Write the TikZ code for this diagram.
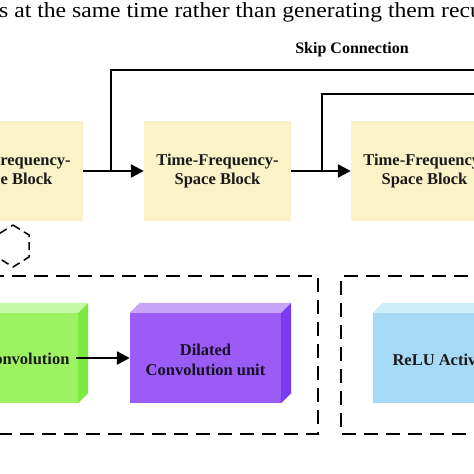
\documentclass[tikz,border=0pt]{standalone}
\usepackage{fontspec}
\setmainfont{Liberation Serif}
\usetikzlibrary{arrows.meta}
\definecolor{tfsyel}{HTML}{FBF2C8}
\definecolor{gfront}{HTML}{9CF260}
\definecolor{gside}{HTML}{7DE83F}
\definecolor{gtop}{HTML}{C6F8A6}
\definecolor{pfront}{HTML}{9B5CF6}
\definecolor{pside}{HTML}{7B3BF4}
\definecolor{ptop}{HTML}{C8A4F9}
\definecolor{bfront}{HTML}{A7DAF7}
\definecolor{btop}{HTML}{CFEEFB}
\definecolor{txtdark}{HTML}{1A1A1A}
\tikzset{
  tfsblock/.style={fill=tfsyel, draw=none, minimum width=147pt, minimum height=100pt,
    align=center, text=txtdark, font=\bfseries\fontsize{16.5}{19}\selectfont},
  cubefront/.style={draw=none, minimum width=151pt, minimum height=90pt, inner sep=0pt},
  conn/.style={line width=2.4pt, draw=black},
  arr/.style={line width=2.4pt, -{Triangle[length=13pt,width=13pt]}},
  dbox/.style={line width=2pt, dash pattern=on 14pt off 8pt},
  lbl/.style={font=\bfseries\fontsize{16.5}{19.5}\selectfont, text=txtdark, align=center},
}
\begin{document}
\begin{tikzpicture}[x=1pt,y=-1pt]
\useasboundingbox (0,0) rectangle (474,474);
\clip (0,0) rectangle (474,474);
\fill[white] (0,0) rectangle (474,474);

% top caption fragment
\node[anchor=base west, inner sep=0pt, font=\fontsize{21.5}{24}\selectfont] (cap) at (-1,17) {\scalebox{1.1}[1]{s at the same time rather than generating them recursively}};

% skip label
\node[font=\bfseries\fontsize{16}{18}\selectfont] (skip) at (352,50) {Skip Connection};

% blocks
\node[tfsblock] (b1) at (9.5,171) {Time-Frequency-\\Space Block};
\node[tfsblock] (b2) at (217.5,171) {Time-Frequency-\\Space Block};
\node[tfsblock] (b3) at (424.5,171) {Time-Frequency-\\Space Block};

\draw[arr] (b1.east) -- (b2.west);
\draw[arr] (b2.east) -- (b3.west);

\coordinate (j1) at (111,171);
\coordinate (j2) at (322,171);
\coordinate (s1end) at (480,70);
\coordinate (s2end) at (480,94);
\draw[conn, line cap=rect] (j1) |- (s1end);
\draw[conn, line cap=rect] (j2) |- (s2end);

% dashed hexagon
\draw[line width=1.5pt, dash pattern=on 8pt off 5pt] (13,225) -- (29,235) -- (29,257) -- (13,267) -- (-3,257) -- (-3,235) -- cycle;

% dashed group boxes
\draw[dbox] (-10,276) -- (318,276) -- (318,434) -- (-10,434);
\draw[dbox] (490,276) -- (341,276) -- (341,434) -- (490,434);

% green cube
\node[cubefront, fill=gfront] (g) at (2.5,358) {};
\fill[gtop] (g.north west) -- ++(10,-10) -- ([shift={(10,-10)}]g.north east) -- (g.north east) -- cycle;
\fill[gside] (g.north east) -- ++(10,-10) -- ([shift={(10,-10)}]g.south east) -- (g.south east) -- cycle;
\node[lbl, anchor=east] (gt) at (73,359) {Convolution};

% purple cube
\node[cubefront, fill=pfront] (p) at (205.5,358) {};
\fill[ptop] (p.north west) -- ++(10,-10) -- ([shift={(10,-10)}]p.north east) -- (p.north east) -- cycle;
\fill[pside] (p.north east) -- ++(10,-10) -- ([shift={(10,-10)}]p.south east) -- (p.south east) -- cycle;
\node[lbl, text=black!85!pfront] (pt) at (205.5,360) {Dilated\\Convolution unit};

% blue cube
\node[cubefront, fill=bfront] (bl) at (448.5,358) {};
\fill[btop] (bl.north west) -- ++(10,-10) -- ([shift={(10,-10)}]bl.north east) -- (bl.north east) -- cycle;
\node[lbl, anchor=west] (blt) at (389,360) {ReLU Activation};

\draw[arr] ([xshift=-2pt]g.east) -- (p.west);
\end{tikzpicture}
\end{document}
